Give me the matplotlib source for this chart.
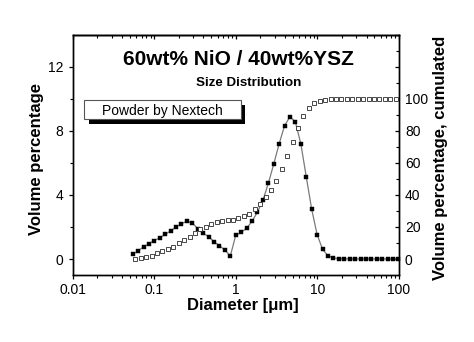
import matplotlib
matplotlib.use("Agg")
import matplotlib.pyplot as plt
from matplotlib.patches import Rectangle
from matplotlib.ticker import FixedLocator, LogLocator, NullFormatter, FixedFormatter

plt.rcParams['font.family'] = ['Liberation Sans', 'DejaVu Sans']

# Particle diameters (um) of the measurement channels
diameter = [0.0543, 0.0633, 0.0738, 0.0860, 0.1002, 0.1168, 0.1361, 0.1586, 0.1849, 0.2155,
            0.2512, 0.2927, 0.3412, 0.3977, 0.4634, 0.5401, 0.6295, 0.7337, 0.8551, 0.9966,
            1.161, 1.354, 1.578, 1.839, 2.143, 2.498, 2.911, 3.393, 3.954, 4.608,
            5.370, 6.259, 7.295, 8.502, 9.908, 11.55, 13.46, 15.69, 18.28, 21.31,
            24.83, 28.94, 33.73, 39.31, 45.81, 53.39, 62.23, 72.53, 84.53, 98.51]

# Volume fraction per channel (%)
volume = [0.29, 0.52, 0.75, 0.96, 1.15, 1.33, 1.54, 1.75, 2.00, 2.21,
          2.35, 2.27, 1.88, 1.60, 1.40, 1.08, 0.83, 0.56, 0.19, 1.48,
          1.67, 1.92, 2.35, 2.94, 3.66, 4.72, 5.93, 7.20, 8.33, 8.90,
          8.56, 7.20, 5.14, 3.11, 1.53, 0.61, 0.20, 0.06, 0.02, 0.01,
          0.0, 0.0, 0.0, 0.0, 0.0, 0.0, 0.0, 0.0, 0.0, 0.0]

# Upper channel edges (um) and cumulated volume (%)
diameter_upper = [0.0585, 0.0682, 0.0795, 0.0926, 0.1079, 0.1258, 0.1466, 0.1708, 0.1991, 0.2321,
                  0.2705, 0.3153, 0.3675, 0.4283, 0.4992, 0.5818, 0.6781, 0.7903, 0.9211, 1.074,
                  1.251, 1.458, 1.700, 1.981, 2.309, 2.691, 3.136, 3.655, 4.260, 4.965,
                  5.786, 6.744, 7.860, 9.160, 10.68, 12.44, 14.50, 16.90, 19.70, 22.96,
                  26.76, 31.19, 36.35, 42.36, 49.37, 57.54, 67.06, 78.16, 91.09]
cumulated = [0.2, 0.8, 1.25, 2.1, 3.5, 4.8, 6.25, 7.7, 9.8, 11.9,
             14.0, 16.0, 18.5, 20.2, 21.7, 22.9, 23.75, 24.2, 24.4, 25.4,
             26.7, 28.1, 31.0, 34.4, 38.75, 43.1, 48.75, 56.25, 64.6, 73.3,
             82.1, 89.2, 94.4, 97.3, 98.9, 99.6, 100, 100, 100, 100,
             100, 100, 100, 100, 100, 100, 100, 100, 100]

left_ticks = [0, 4, 8, 12]
right_ticks = [0, 20, 40, 60, 80, 100, 120, 140]
right_labels = ['0', '20', '40', '60', '80', '100', '', '']
x_ticks = [0.01, 0.1, 1, 10, 100]
x_labels = ['0.01', '0.1', '1', '10', '100']

fig = plt.figure(figsize=(4.74, 3.42), dpi=100)
ax = fig.add_axes([0.1534, 0.1959, 0.6884, 0.7018])
ax2 = ax.twinx()

ax.set_xscale('log')
ax.set_xlim(0.01, 100)
ax.set_ylim(-1, 14)
ax2.set_ylim(-10, 140)

ax.plot(diameter, volume, color='#7a7a7a', lw=0.9, zorder=2)
ax.plot(diameter, volume, ls='none', marker='s', ms=3.1, mfc='black', mec='black',
        mew=0.3, zorder=3, clip_on=False)
ax2.plot(diameter_upper, cumulated, ls='none', marker='s', ms=3.1, mfc='white',
         mec='#2a2a2a', mew=0.6, zorder=3)

# Axis ticks
ax.xaxis.set_major_locator(FixedLocator(x_ticks))
ax.xaxis.set_major_formatter(FixedFormatter(x_labels))
ax.xaxis.set_minor_locator(LogLocator(base=10, subs=range(2, 10), numticks=20))
ax.xaxis.set_minor_formatter(NullFormatter())
ax.yaxis.set_major_locator(FixedLocator(left_ticks))
ax.yaxis.set_minor_locator(FixedLocator([2, 6, 10]))
ax2.yaxis.set_major_locator(FixedLocator(right_ticks))
ax2.yaxis.set_major_formatter(FixedFormatter(right_labels))
ax2.yaxis.set_minor_locator(FixedLocator([10, 30, 50, 70, 90, 110, 130]))

ax.tick_params(axis='x', which='both', direction='out', labelsize=10, pad=2.5)
ax.tick_params(axis='x', which='major', length=3.2, width=0.9)
ax.tick_params(axis='x', which='minor', length=2.0, width=0.8)
ax.tick_params(axis='y', which='both', direction='out', labelsize=10, pad=3.5)
ax.tick_params(axis='y', which='major', length=3.2, width=0.9)
ax.tick_params(axis='y', which='minor', length=2.0, width=0.8)
ax2.tick_params(axis='y', which='both', direction='in', labelsize=10, pad=4.3)
ax2.tick_params(axis='y', which='major', length=3.2, width=0.9)
ax2.tick_params(axis='y', which='minor', length=2.0, width=0.8)

# Top ticks point into the frame
secx = ax.secondary_xaxis('top')
secx.set_xscale('log')
secx.xaxis.set_major_locator(FixedLocator(x_ticks))
secx.xaxis.set_minor_locator(LogLocator(base=10, subs=range(2, 10), numticks=20))
secx.tick_params(which='both', direction='in', labeltop=False)
secx.tick_params(which='major', length=3.2, width=0.9)
secx.tick_params(which='minor', length=2.0, width=0.8)
secx.spines['top'].set_linewidth(1.0)

for a in (ax, ax2):
    for s in a.spines.values():
        s.set_linewidth(1.0)

ax.set_xlabel('Diameter [\u03bcm]', fontsize=12, fontweight='bold')
ax.set_ylabel('Volume percentage', fontsize=12, fontweight='bold')
ax2.set_ylabel('Volume percentage, cumulated', fontsize=12, fontweight='bold')
ax.xaxis.set_label_coords(0.520, -0.095)
ax.yaxis.set_label_coords(-0.088, 0.483)
ax2.yaxis.set_label_coords(1.104, 0.49)

ax.text(0.5066, 0.875, '60wt% NiO / 40wt%YSZ', transform=ax.transAxes, ha='center',
        va='baseline', fontsize=15, fontweight='bold')
ax.text(0.5396, 0.7875, 'Size Distribution', transform=ax.transAxes, ha='center',
        va='baseline', fontsize=9.6, fontweight='bold')

# Label box with drop shadow
bx0, by0, bw, bh = 0.0356, 0.649, 0.4793, 0.080
ax.add_patch(Rectangle((bx0 + 0.0135, by0 - 0.019), bw, bh, transform=ax.transAxes,
                       facecolor='black', edgecolor='black', lw=0, zorder=4))
ax.add_patch(Rectangle((bx0, by0), bw, bh, transform=ax.transAxes,
                       facecolor='white', edgecolor='#555555', lw=0.8, zorder=5))
ax.text(0.2752, 0.6667, 'Powder by Nextech', transform=ax.transAxes, ha='center',
        va='baseline', fontsize=10, zorder=6)

fig.savefig('out.png', dpi=100, facecolor='white')
